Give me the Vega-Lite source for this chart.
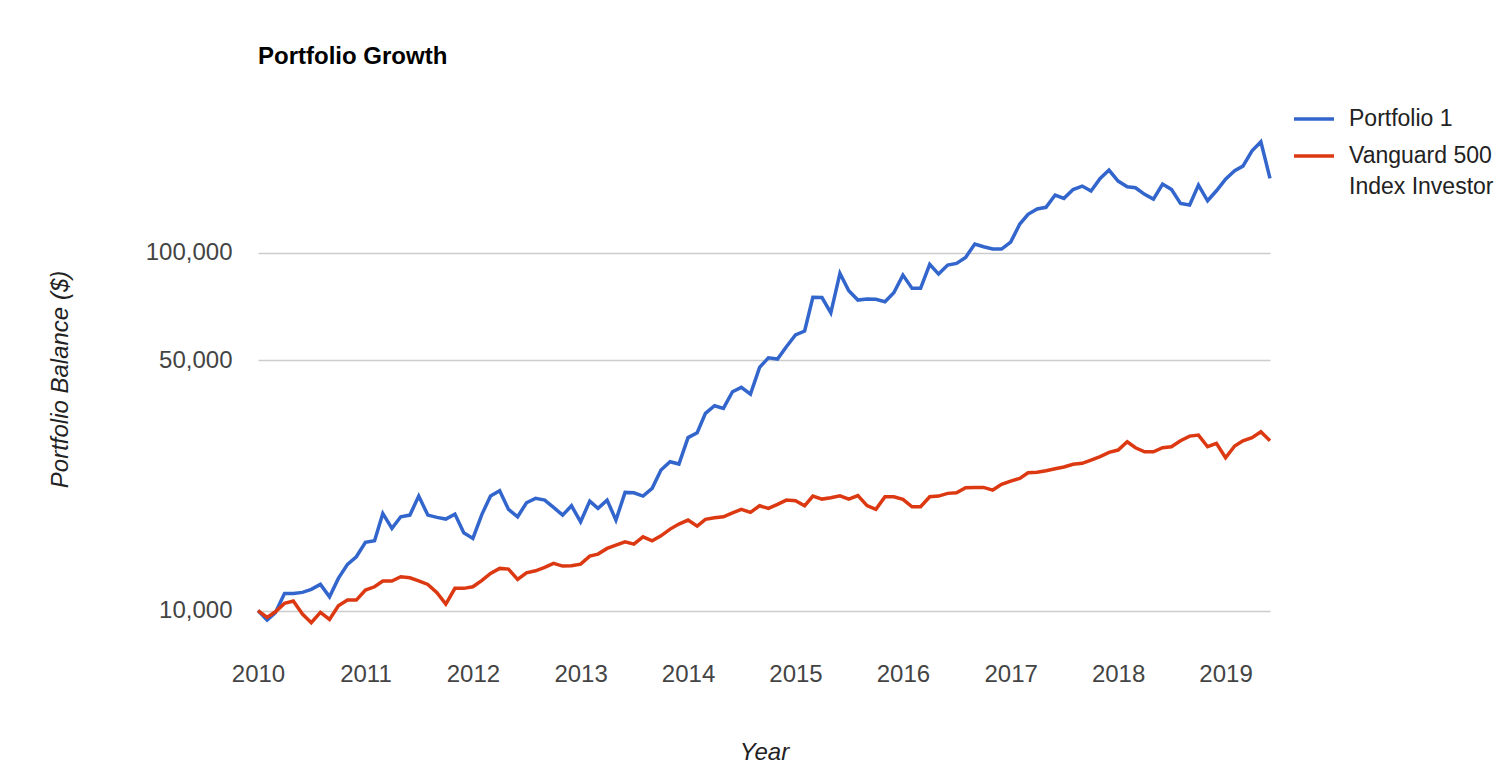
{
  "$schema": "https://vega.github.io/schema/vega-lite/v6.json",
  "width": 1012,
  "height": 550,
  "autosize": {"type": "none"},
  "padding": {"left": 258, "top": 100, "right": 229, "bottom": 123},
  "background": "white",
  "title": {"text": "Portfolio Growth", "anchor": "start", "frame": "group", "font": "Liberation Sans", "fontSize": 24, "fontWeight": "bold", "color": "#000000", "offset": 28},
  "config": {"view": {"stroke": null}},
  "data": {"values": [
    {"date":"2010-01-01","series":"Portfolio 1","value":10000},
    {"date":"2010-02-01","series":"Portfolio 1","value":9407},
    {"date":"2010-03-01","series":"Portfolio 1","value":9860},
    {"date":"2010-04-01","series":"Portfolio 1","value":11169},
    {"date":"2010-05-01","series":"Portfolio 1","value":11169},
    {"date":"2010-06-01","series":"Portfolio 1","value":11241},
    {"date":"2010-07-01","series":"Portfolio 1","value":11460},
    {"date":"2010-08-01","series":"Portfolio 1","value":11834},
    {"date":"2010-09-01","series":"Portfolio 1","value":10927},
    {"date":"2010-10-01","series":"Portfolio 1","value":12300},
    {"date":"2010-11-01","series":"Portfolio 1","value":13458},
    {"date":"2010-12-01","series":"Portfolio 1","value":14132},
    {"date":"2011-01-01","series":"Portfolio 1","value":15506},
    {"date":"2011-02-01","series":"Portfolio 1","value":15667},
    {"date":"2011-03-01","series":"Portfolio 1","value":18683},
    {"date":"2011-04-01","series":"Portfolio 1","value":16963},
    {"date":"2011-05-01","series":"Portfolio 1","value":18279},
    {"date":"2011-06-01","series":"Portfolio 1","value":18480},
    {"date":"2011-07-01","series":"Portfolio 1","value":20884},
    {"date":"2011-08-01","series":"Portfolio 1","value":18480},
    {"date":"2011-09-01","series":"Portfolio 1","value":18209},
    {"date":"2011-10-01","series":"Portfolio 1","value":18011},
    {"date":"2011-11-01","series":"Portfolio 1","value":18599},
    {"date":"2011-12-01","series":"Portfolio 1","value":16490},
    {"date":"2012-01-01","series":"Portfolio 1","value":15908},
    {"date":"2012-02-01","series":"Portfolio 1","value":18599},
    {"date":"2012-03-01","series":"Portfolio 1","value":20884},
    {"date":"2012-04-01","series":"Portfolio 1","value":21609},
    {"date":"2012-05-01","series":"Portfolio 1","value":19170},
    {"date":"2012-06-01","series":"Portfolio 1","value":18279},
    {"date":"2012-07-01","series":"Portfolio 1","value":20002},
    {"date":"2012-08-01","series":"Portfolio 1","value":20576},
    {"date":"2012-09-01","series":"Portfolio 1","value":20353},
    {"date":"2012-10-01","series":"Portfolio 1","value":19419},
    {"date":"2012-11-01","series":"Portfolio 1","value":18480},
    {"date":"2012-12-01","series":"Portfolio 1","value":19620},
    {"date":"2013-01-01","series":"Portfolio 1","value":17701},
    {"date":"2013-02-01","series":"Portfolio 1","value":20222},
    {"date":"2013-03-01","series":"Portfolio 1","value":19295},
    {"date":"2013-04-01","series":"Portfolio 1","value":20353},
    {"date":"2013-05-01","series":"Portfolio 1","value":17896},
    {"date":"2013-06-01","series":"Portfolio 1","value":21387},
    {"date":"2013-07-01","series":"Portfolio 1","value":21332},
    {"date":"2013-08-01","series":"Portfolio 1","value":20884},
    {"date":"2013-09-01","series":"Portfolio 1","value":21945},
    {"date":"2013-10-01","series":"Portfolio 1","value":24693},
    {"date":"2013-11-01","series":"Portfolio 1","value":26046},
    {"date":"2013-12-01","series":"Portfolio 1","value":25664},
    {"date":"2014-01-01","series":"Portfolio 1","value":30424},
    {"date":"2014-02-01","series":"Portfolio 1","value":31378},
    {"date":"2014-03-01","series":"Portfolio 1","value":35549},
    {"date":"2014-04-01","series":"Portfolio 1","value":37330},
    {"date":"2014-05-01","series":"Portfolio 1","value":36711},
    {"date":"2014-06-01","series":"Portfolio 1","value":40852},
    {"date":"2014-07-01","series":"Portfolio 1","value":42025},
    {"date":"2014-08-01","series":"Portfolio 1","value":40253},
    {"date":"2014-09-01","series":"Portfolio 1","value":47787},
    {"date":"2014-10-01","series":"Portfolio 1","value":50834},
    {"date":"2014-11-01","series":"Portfolio 1","value":50410},
    {"date":"2014-12-01","series":"Portfolio 1","value":54565},
    {"date":"2015-01-01","series":"Portfolio 1","value":58849},
    {"date":"2015-02-01","series":"Portfolio 1","value":60381},
    {"date":"2015-03-01","series":"Portfolio 1","value":74970},
    {"date":"2015-04-01","series":"Portfolio 1","value":74874},
    {"date":"2015-05-01","series":"Portfolio 1","value":67887},
    {"date":"2015-06-01","series":"Portfolio 1","value":87474},
    {"date":"2015-07-01","series":"Portfolio 1","value":78223},
    {"date":"2015-08-01","series":"Portfolio 1","value":73680},
    {"date":"2015-09-01","series":"Portfolio 1","value":74155},
    {"date":"2015-10-01","series":"Portfolio 1","value":74012},
    {"date":"2015-11-01","series":"Portfolio 1","value":72879},
    {"date":"2015-12-01","series":"Portfolio 1","value":77223},
    {"date":"2016-01-01","series":"Portfolio 1","value":86523},
    {"date":"2016-02-01","series":"Portfolio 1","value":79433},
    {"date":"2016-03-01","series":"Portfolio 1","value":79433},
    {"date":"2016-04-01","series":"Portfolio 1","value":92688},
    {"date":"2016-05-01","series":"Portfolio 1","value":87081},
    {"date":"2016-06-01","series":"Portfolio 1","value":92270},
    {"date":"2016-07-01","series":"Portfolio 1","value":93284},
    {"date":"2016-08-01","series":"Portfolio 1","value":96960},
    {"date":"2016-09-01","series":"Portfolio 1","value":105620},
    {"date":"2016-10-01","series":"Portfolio 1","value":103800},
    {"date":"2016-11-01","series":"Portfolio 1","value":102280},
    {"date":"2016-12-01","series":"Portfolio 1","value":102280},
    {"date":"2017-01-01","series":"Portfolio 1","value":106980},
    {"date":"2017-02-01","series":"Portfolio 1","value":120120},
    {"date":"2017-03-01","series":"Portfolio 1","value":127890},
    {"date":"2017-04-01","series":"Portfolio 1","value":132320},
    {"date":"2017-05-01","series":"Portfolio 1","value":133770},
    {"date":"2017-06-01","series":"Portfolio 1","value":144750},
    {"date":"2017-07-01","series":"Portfolio 1","value":141710},
    {"date":"2017-08-01","series":"Portfolio 1","value":149960},
    {"date":"2017-09-01","series":"Portfolio 1","value":153370},
    {"date":"2017-10-01","series":"Portfolio 1","value":148520},
    {"date":"2017-11-01","series":"Portfolio 1","value":161150},
    {"date":"2017-12-01","series":"Portfolio 1","value":170000},
    {"date":"2018-01-01","series":"Portfolio 1","value":158370},
    {"date":"2018-02-01","series":"Portfolio 1","value":152680},
    {"date":"2018-03-01","series":"Portfolio 1","value":151700},
    {"date":"2018-04-01","series":"Portfolio 1","value":145410},
    {"date":"2018-05-01","series":"Portfolio 1","value":141080},
    {"date":"2018-06-01","series":"Portfolio 1","value":155350},
    {"date":"2018-07-01","series":"Portfolio 1","value":150150},
    {"date":"2018-08-01","series":"Portfolio 1","value":137230},
    {"date":"2018-09-01","series":"Portfolio 1","value":135740},
    {"date":"2018-10-01","series":"Portfolio 1","value":154350},
    {"date":"2018-11-01","series":"Portfolio 1","value":139550},
    {"date":"2018-12-01","series":"Portfolio 1","value":148810},
    {"date":"2019-01-01","series":"Portfolio 1","value":160430},
    {"date":"2019-02-01","series":"Portfolio 1","value":169230},
    {"date":"2019-03-01","series":"Portfolio 1","value":174420},
    {"date":"2019-04-01","series":"Portfolio 1","value":192440},
    {"date":"2019-05-01","series":"Portfolio 1","value":203920},
    {"date":"2019-06-01","series":"Portfolio 1","value":161150},
    {"date":"2010-01-01","series":"Vanguard 500 Index Investor","value":10000},
    {"date":"2010-02-01","series":"Vanguard 500 Index Investor","value":9572},
    {"date":"2010-03-01","series":"Vanguard 500 Index Investor","value":9920},
    {"date":"2010-04-01","series":"Vanguard 500 Index Investor","value":10474},
    {"date":"2010-05-01","series":"Vanguard 500 Index Investor","value":10630},
    {"date":"2010-06-01","series":"Vanguard 500 Index Investor","value":9777},
    {"date":"2010-07-01","series":"Vanguard 500 Index Investor","value":9245},
    {"date":"2010-08-01","series":"Vanguard 500 Index Investor","value":9885},
    {"date":"2010-09-01","series":"Vanguard 500 Index Investor","value":9450},
    {"date":"2010-10-01","series":"Vanguard 500 Index Investor","value":10314},
    {"date":"2010-11-01","series":"Vanguard 500 Index Investor","value":10699},
    {"date":"2010-12-01","series":"Vanguard 500 Index Investor","value":10699},
    {"date":"2011-01-01","series":"Vanguard 500 Index Investor","value":11410},
    {"date":"2011-02-01","series":"Vanguard 500 Index Investor","value":11654},
    {"date":"2011-03-01","series":"Vanguard 500 Index Investor","value":12089},
    {"date":"2011-04-01","series":"Vanguard 500 Index Investor","value":12089},
    {"date":"2011-05-01","series":"Vanguard 500 Index Investor","value":12427},
    {"date":"2011-06-01","series":"Vanguard 500 Index Investor","value":12347},
    {"date":"2011-07-01","series":"Vanguard 500 Index Investor","value":12112},
    {"date":"2011-08-01","series":"Vanguard 500 Index Investor","value":11834},
    {"date":"2011-09-01","series":"Vanguard 500 Index Investor","value":11213},
    {"date":"2011-10-01","series":"Vanguard 500 Index Investor","value":10427},
    {"date":"2011-11-01","series":"Vanguard 500 Index Investor","value":11535},
    {"date":"2011-12-01","series":"Vanguard 500 Index Investor","value":11535},
    {"date":"2012-01-01","series":"Vanguard 500 Index Investor","value":11654},
    {"date":"2012-02-01","series":"Vanguard 500 Index Investor","value":12144},
    {"date":"2012-03-01","series":"Vanguard 500 Index Investor","value":12700},
    {"date":"2012-04-01","series":"Vanguard 500 Index Investor","value":13115},
    {"date":"2012-05-01","series":"Vanguard 500 Index Investor","value":13056},
    {"date":"2012-06-01","series":"Vanguard 500 Index Investor","value":12222},
    {"date":"2012-07-01","series":"Vanguard 500 Index Investor","value":12750},
    {"date":"2012-08-01","series":"Vanguard 500 Index Investor","value":12915},
    {"date":"2012-09-01","series":"Vanguard 500 Index Investor","value":13200},
    {"date":"2012-10-01","series":"Vanguard 500 Index Investor","value":13545},
    {"date":"2012-11-01","series":"Vanguard 500 Index Investor","value":13312},
    {"date":"2012-12-01","series":"Vanguard 500 Index Investor","value":13338},
    {"date":"2013-01-01","series":"Vanguard 500 Index Investor","value":13484},
    {"date":"2013-02-01","series":"Vanguard 500 Index Investor","value":14196},
    {"date":"2013-03-01","series":"Vanguard 500 Index Investor","value":14380},
    {"date":"2013-04-01","series":"Vanguard 500 Index Investor","value":14917},
    {"date":"2013-05-01","series":"Vanguard 500 Index Investor","value":15237},
    {"date":"2013-06-01","series":"Vanguard 500 Index Investor","value":15567},
    {"date":"2013-07-01","series":"Vanguard 500 Index Investor","value":15335},
    {"date":"2013-08-01","series":"Vanguard 500 Index Investor","value":16072},
    {"date":"2013-09-01","series":"Vanguard 500 Index Investor","value":15667},
    {"date":"2013-10-01","series":"Vanguard 500 Index Investor","value":16176},
    {"date":"2013-11-01","series":"Vanguard 500 Index Investor","value":16888},
    {"date":"2013-12-01","series":"Vanguard 500 Index Investor","value":17441},
    {"date":"2014-01-01","series":"Vanguard 500 Index Investor","value":17896},
    {"date":"2014-02-01","series":"Vanguard 500 Index Investor","value":17218},
    {"date":"2014-03-01","series":"Vanguard 500 Index Investor","value":17976},
    {"date":"2014-04-01","series":"Vanguard 500 Index Investor","value":18162},
    {"date":"2014-05-01","series":"Vanguard 500 Index Investor","value":18279},
    {"date":"2014-06-01","series":"Vanguard 500 Index Investor","value":18755},
    {"date":"2014-07-01","series":"Vanguard 500 Index Investor","value":19170},
    {"date":"2014-08-01","series":"Vanguard 500 Index Investor","value":18804},
    {"date":"2014-09-01","series":"Vanguard 500 Index Investor","value":19620},
    {"date":"2014-10-01","series":"Vanguard 500 Index Investor","value":19295},
    {"date":"2014-11-01","series":"Vanguard 500 Index Investor","value":19797},
    {"date":"2014-12-01","series":"Vanguard 500 Index Investor","value":20353},
    {"date":"2015-01-01","series":"Vanguard 500 Index Investor","value":20262},
    {"date":"2015-02-01","series":"Vanguard 500 Index Investor","value":19620},
    {"date":"2015-03-01","series":"Vanguard 500 Index Investor","value":20884},
    {"date":"2015-04-01","series":"Vanguard 500 Index Investor","value":20484},
    {"date":"2015-05-01","series":"Vanguard 500 Index Investor","value":20656},
    {"date":"2015-06-01","series":"Vanguard 500 Index Investor","value":20924},
    {"date":"2015-07-01","series":"Vanguard 500 Index Investor","value":20484},
    {"date":"2015-08-01","series":"Vanguard 500 Index Investor","value":20951},
    {"date":"2015-09-01","series":"Vanguard 500 Index Investor","value":19645},
    {"date":"2015-10-01","series":"Vanguard 500 Index Investor","value":19170},
    {"date":"2015-11-01","series":"Vanguard 500 Index Investor","value":20790},
    {"date":"2015-12-01","series":"Vanguard 500 Index Investor","value":20790},
    {"date":"2016-01-01","series":"Vanguard 500 Index Investor","value":20445},
    {"date":"2016-02-01","series":"Vanguard 500 Index Investor","value":19495},
    {"date":"2016-03-01","series":"Vanguard 500 Index Investor","value":19495},
    {"date":"2016-04-01","series":"Vanguard 500 Index Investor","value":20790},
    {"date":"2016-05-01","series":"Vanguard 500 Index Investor","value":20884},
    {"date":"2016-06-01","series":"Vanguard 500 Index Investor","value":21250},
    {"date":"2016-07-01","series":"Vanguard 500 Index Investor","value":21332},
    {"date":"2016-08-01","series":"Vanguard 500 Index Investor","value":22030},
    {"date":"2016-09-01","series":"Vanguard 500 Index Investor","value":22086},
    {"date":"2016-10-01","series":"Vanguard 500 Index Investor","value":22086},
    {"date":"2016-11-01","series":"Vanguard 500 Index Investor","value":21707},
    {"date":"2016-12-01","series":"Vanguard 500 Index Investor","value":22516},
    {"date":"2017-01-01","series":"Vanguard 500 Index Investor","value":23000},
    {"date":"2017-02-01","series":"Vanguard 500 Index Investor","value":23402},
    {"date":"2017-03-01","series":"Vanguard 500 Index Investor","value":24268},
    {"date":"2017-04-01","series":"Vanguard 500 Index Investor","value":24330},
    {"date":"2017-05-01","series":"Vanguard 500 Index Investor","value":24582},
    {"date":"2017-06-01","series":"Vanguard 500 Index Investor","value":24900},
    {"date":"2017-07-01","series":"Vanguard 500 Index Investor","value":25174},
    {"date":"2017-08-01","series":"Vanguard 500 Index Investor","value":25631},
    {"date":"2017-09-01","series":"Vanguard 500 Index Investor","value":25779},
    {"date":"2017-10-01","series":"Vanguard 500 Index Investor","value":26333},
    {"date":"2017-11-01","series":"Vanguard 500 Index Investor","value":26932},
    {"date":"2017-12-01","series":"Vanguard 500 Index Investor","value":27670},
    {"date":"2018-01-01","series":"Vanguard 500 Index Investor","value":28082},
    {"date":"2018-02-01","series":"Vanguard 500 Index Investor","value":29614},
    {"date":"2018-03-01","series":"Vanguard 500 Index Investor","value":28501},
    {"date":"2018-04-01","series":"Vanguard 500 Index Investor","value":27777},
    {"date":"2018-05-01","series":"Vanguard 500 Index Investor","value":27777},
    {"date":"2018-06-01","series":"Vanguard 500 Index Investor","value":28501},
    {"date":"2018-07-01","series":"Vanguard 500 Index Investor","value":28684},
    {"date":"2018-08-01","series":"Vanguard 500 Index Investor","value":29805},
    {"date":"2018-09-01","series":"Vanguard 500 Index Investor","value":30719},
    {"date":"2018-10-01","series":"Vanguard 500 Index Investor","value":30917},
    {"date":"2018-11-01","series":"Vanguard 500 Index Investor","value":28684},
    {"date":"2018-12-01","series":"Vanguard 500 Index Investor","value":29311},
    {"date":"2019-01-01","series":"Vanguard 500 Index Investor","value":26725},
    {"date":"2019-02-01","series":"Vanguard 500 Index Investor","value":28814},
    {"date":"2019-03-01","series":"Vanguard 500 Index Investor","value":29805},
    {"date":"2019-04-01","series":"Vanguard 500 Index Investor","value":30385},
    {"date":"2019-05-01","series":"Vanguard 500 Index Investor","value":31580},
    {"date":"2019-06-01","series":"Vanguard 500 Index Investor","value":29805}
  ]},
  "mark": {"type": "line", "strokeWidth": 3.5, "interpolate": "linear"},
  "encoding": {
    "x": {
      "field": "date",
      "type": "temporal",
      "scale": {"type": "utc", "domain": [{"year": 2010, "month": 1, "date": 1, "utc": true}, {"year": 2019, "month": 6, "date": 1, "utc": true}], "nice": false},
      "axis": {
        "title": "Year",
        "values": [
          {"year": 2010, "month": 1, "date": 1, "utc": true},
          {"year": 2011, "month": 1, "date": 1, "utc": true},
          {"year": 2012, "month": 1, "date": 1, "utc": true},
          {"year": 2013, "month": 1, "date": 1, "utc": true},
          {"year": 2014, "month": 1, "date": 1, "utc": true},
          {"year": 2015, "month": 1, "date": 1, "utc": true},
          {"year": 2016, "month": 1, "date": 1, "utc": true},
          {"year": 2017, "month": 1, "date": 1, "utc": true},
          {"year": 2018, "month": 1, "date": 1, "utc": true},
          {"year": 2019, "month": 1, "date": 1, "utc": true}
        ],
        "format": "%Y",
        "formatType": "utc",
        "grid": false,
        "domain": false,
        "ticks": false,
        "labelFont": "Liberation Sans",
        "labelFontSize": 24,
        "labelColor": "#444444",
        "labelPadding": 12,
        "labelFlush": false,
        "labelOverlap": false,
        "titleFont": "Liberation Sans",
        "titleFontSize": 24,
        "titleFontStyle": "italic",
        "titleFontWeight": "normal",
        "titleColor": "#222222",
        "titleBaseline": "middle",
        "titleY": 102
      }
    },
    "y": {
      "field": "value",
      "type": "quantitative",
      "scale": {"type": "log", "domain": [7760, 266800], "nice": false, "zero": false},
      "axis": {
        "title": "Portfolio Balance ($)",
        "values": [10000, 50000, 100000],
        "format": ",",
        "grid": true,
        "gridColor": "#cccccc",
        "gridWidth": 1.5,
        "domain": false,
        "ticks": false,
        "labelFont": "Liberation Sans",
        "labelFontSize": 24,
        "labelColor": "#444444",
        "labelPadding": 26,
        "titleFont": "Liberation Sans",
        "titleFontSize": 24,
        "titleFontStyle": "italic",
        "titleFontWeight": "normal",
        "titleColor": "#222222",
        "titleBaseline": "middle",
        "titleX": -198,
        "titleY": 279
      }
    },
    "color": {
      "field": "series",
      "type": "nominal",
      "scale": {"domain": ["Portfolio 1", "Vanguard 500 Index Investor"], "range": ["#3366cc", "#dc3912"]},
      "legend": {
        "title": null,
        "orient": "none",
        "legendX": 1034,
        "legendY": -3,
        "padding": 0,
        "symbolType": "stroke",
        "symbolSize": 1600,
        "symbolStrokeWidth": 3.5,
        "labelFont": "Liberation Sans",
        "labelFontSize": 23,
        "labelColor": "#222222",
        "labelOffset": 13,
        "labelLimit": 300,
        "rowPadding": 3,
        "labelExpr": "datum.label == 'Vanguard 500 Index Investor' ? ['Vanguard 500', 'Index Investor'] : datum.label",
        "encode": {"labels": {"update": {"lineHeight": {"value": 31}}}}
      }
    }
  }
}
